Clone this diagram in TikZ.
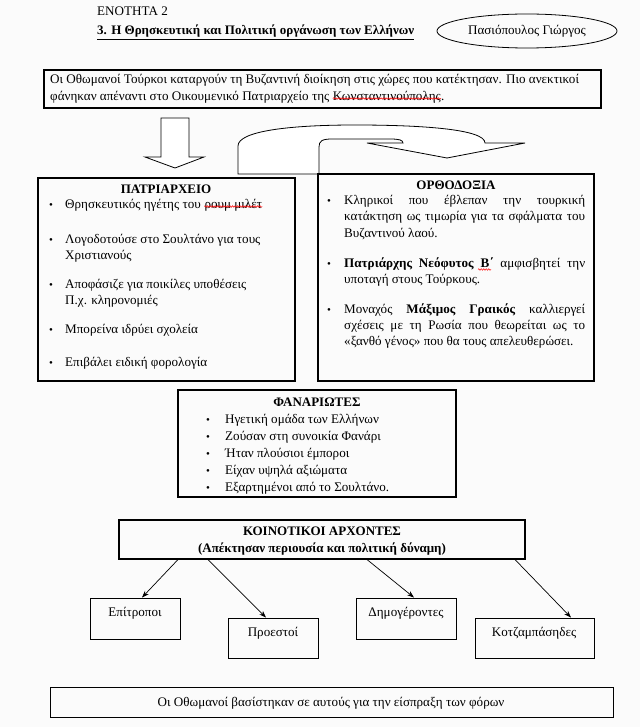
\documentclass[tikz,border=0pt]{standalone}
\usepackage{fontspec}
\setmainfont{Liberation Serif}
\usetikzlibrary{arrows.meta,calc,fit,shapes.geometric,decorations.pathmorphing}
\newcommand\jline[1]{\makebox[241pt][s]{#1}}
\begin{document}
\begin{tikzpicture}[x=1pt,y=-1pt,
  every node/.style={font=\fontsize{13.1}{15.6}\selectfont, inner sep=0pt},
  box/.style={draw, line width=1.1pt},
  smallbox/.style={draw, line width=0.9pt},
  tl/.style={anchor=base west},
  tc/.style={anchor=base},
  bl/.style={anchor=base west, font=\fontsize{11}{13}\selectfont},
  blockarrow/.style={draw, line width=0.8pt, fill=white, line join=miter},
  wavy/.style={draw=red, line width=0.5pt, decorate, decoration={snake, amplitude=0.8pt, segment length=2.5pt}},
  conn/.style={line width=0.7pt, -{Stealth[length=7pt,width=5pt]}}]
\fill[gray!3] (0,0) rectangle (640,727);
\useasboundingbox (0,0) rectangle (640,727);

% header
\node[tl] (unit) at (97,16) {ΕΝΟΤΗΤΑ 2};
\node[tl, font=\fontsize{13}{15.6}\selectfont\bfseries] (title) at (97,35) {\underline{3. Η Θρησκευτική και Πολιτική οργάνωση των Ελλήνων}};
\node[draw, ellipse, line width=0.8pt, minimum width=180pt, minimum height=34pt] (author) at (527,31) {Πασιόπουλος Γιώργος};

% intro box
\node[box, fit={(44,70)(601,108)}] (intro) {};
\node[tl] (introA) at (50,84) {Οι Οθωμανοί Τούρκοι καταργούν τη Βυζαντινή διοίκηση στις χώρες που κατέκτησαν. Πιο ανεκτικοί};
\node[tl] (introB) at (50,101) {φάνηκαν απέναντι στο Οικουμενικό Πατριαρχείο της\ \mbox{}};
\node[tl] (introW) at (introB.base east) {Κωνσταντινούπολης};
\node[tl] (introP) at (introW.base east) {.};
\draw[wavy] ([yshift=2.5pt]introW.base west) -- ([yshift=2.5pt]introW.base east);

% block arrows
\draw[blockarrow] (161,118) -- (189,118) -- (189,157) -- (204,157) -- (175,168) -- (145,157) -- (161,157) -- cycle;
\draw[blockarrow] (238,174) -- (238,146) .. controls (238,131) and (290,125) .. (355,125)
  .. controls (420,125) and (485,129) .. (485,143) -- (525,143) -- (447,158) -- (367,143) -- (403,143)
  .. controls (403,140) and (399,139) .. (390,139) -- (332,139) .. controls (322,139) and (319,141) .. (319,147) -- (319,174) -- cycle;

% Patriarxeio
\node[box, fit={(38,178)(295,381)}] (patr) {};
\node[tc, font=\fontsize{13}{15.6}\selectfont\bfseries] (patrT) at (166,194) {ΠΑΤΡΙΑΡΧΕΙΟ};
\node[bl] (pb1) at (49,209) {•};
\node[tl] (p1) at (65,209) {Θρησκευτικός ηγέτης του\ \mbox{}};
\node[tl] (p1w) at (p1.base east) {ρουμ μιλέτ};
\draw[wavy] ([yshift=2.5pt]p1w.base west) -- ([yshift=2.5pt]p1w.base east);
\node[bl] (pb2) at (49,243) {•};
\node[tl] (p2) at (65,243) {Λογοδοτούσε στο Σουλτάνο για τους};
\node[tl] (p2b) at (65,259) {Χριστιανούς};
\node[bl] (pb3) at (49,288) {•};
\node[tl] (p3) at (65,288) {Αποφάσιζε για ποικίλες υποθέσεις};
\node[tl] (p3b) at (65,304) {Π.χ. κληρονομιές};
\node[bl] (pb4) at (49,333) {•};
\node[tl] (p4) at (65,333) {Μπορείνα ιδρύει σχολεία};
\node[bl] (pb5) at (49,366) {•};
\node[tl] (p5) at (65,366) {Επιβάλει ειδική φορολογία};

% Orthodoxia
\node[box, fit={(318,174)(594,381)}] (orth) {};
\node[tc, font=\fontsize{13}{15.6}\selectfont\bfseries] (orthT) at (456,190) {ΟΡΘΟΔΟΞΙΑ};
\node[bl] (ob1) at (327,205) {•};
\node[tl] (o1) at (344,205) {\jline{Κληρικοί που έβλεπαν την τουρκική}};
\node[tl] (o1b) at (344,221) {\jline{κατάκτηση ως τιμωρία για τα σφάλματα του}};
\node[tl] (o1c) at (344,237) {Βυζαντινού λαού.};
\node[bl] (ob2) at (327,267) {•};
\node[tl] (o2) at (344,267) {\jline{\textbf{Πατριάρχης Νεόφυτος Β΄} αμφισβητεί την}};
\node[tl] (o2b) at (344,283) {υποταγή στους Τούρκους.};
\draw[wavy] (478,269.5) -- (491,269.5);
\node[bl] (ob3) at (327,313) {•};
\node[tl] (o3) at (344,313) {\jline{Μοναχός \textbf{Μάξιμος Γραικός} καλλιεργεί}};
\node[tl] (o3b) at (344,329) {\jline{σχέσεις με τη Ρωσία που θεωρείται ως το}};
\node[tl] (o3c) at (344,345) {«ξανθό γένος» που θα τους απελευθερώσει.};

% Fanariotes
\node[box, fit={(178,390)(456,497)}] (fan) {};
\node[tc, font=\fontsize{13}{15.6}\selectfont\bfseries] (fanT) at (317,406) {ΦΑΝΑΡΙΩΤΕΣ};
\foreach \y/\t [count=\i] in {423/Ηγετική ομάδα των Ελλήνων, 440/Ζούσαν στη συνοικία Φανάρι, 457/Ήταν πλούσιοι έμποροι, 474/Είχαν υψηλά αξιώματα, 491/Εξαρτημένοι από το Σουλτάνο.}{
  \node[bl] (fb\i) at (206,\y) {•};
  \node[tl] (f\i) at (225,\y) {\t};
}

% Koinotikoi
\node[box, fit={(119,520)(525,559)}] (koin) {};
\node[tc, font=\fontsize{13}{15.6}\selectfont\bfseries] (koinT) at (322,535) {ΚΟΙΝΟΤΙΚΟΙ ΑΡΧΟΝΤΕΣ};
\node[tc, font=\fontsize{13}{15.6}\selectfont\bfseries] (koinS) at (322,552) {(Απέκτησαν περιουσία και πολιτική δύναμη)};

% small boxes
\node[smallbox, fit={(90,598)(180,639)}] (epi) {};
\node[tc] (epiT) at (135,616) {Επίτροποι};
\node[smallbox, fit={(228,618)(318,658)}] (pro) {};
\node[tc] (proT) at (273,636) {Προεστοί};
\node[smallbox, fit={(356,598)(456,639)}] (dim) {};
\node[tc] (dimT) at (406,616) {Δημογέροντες};
\node[smallbox, fit={(475,618)(594,658)}] (koz) {};
\node[tc] (kozT) at (534,636) {Κοτζαμπάσηδες};

\coordinate (k1) at (koin.south -| 178,0);
\coordinate (k2) at (koin.south -| 208,0);
\coordinate (k3) at (koin.south -| 367,0);
\coordinate (k4) at (koin.south -| 515,0);
\draw[conn] (k1) -- (epi.north -| 142,0);
\draw[conn] (k2) -- (pro.north -| 266,0);
\draw[conn] (k3) -- (dim.north -| 414,0);
\draw[conn] (k4) -- (koz.north -| 571,0);

% bottom
\node[smallbox, fit={(50,687)(613,717)}] (tax) {};
\node[tc] (taxT) at (331,706) {Οι Οθωμανοί βασίστηκαν σε αυτούς για την είσπραξη των φόρων};
\end{tikzpicture}
\end{document}
